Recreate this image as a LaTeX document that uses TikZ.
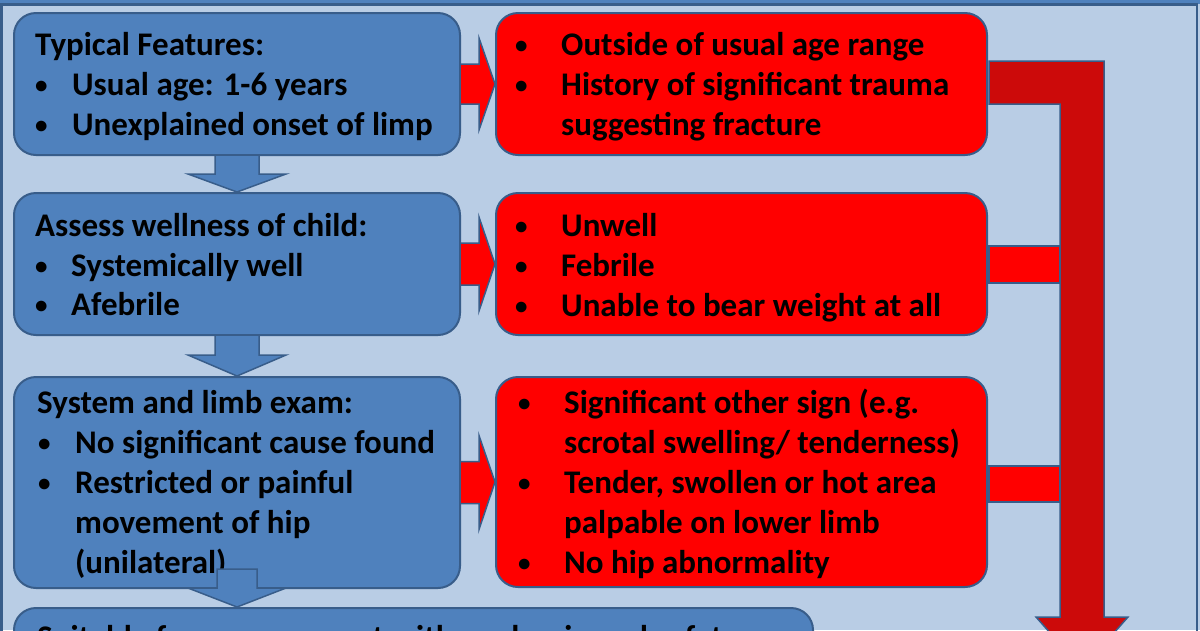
\documentclass[tikz,border=0pt]{standalone}
\usepackage{fontspec}
\setmainfont{Carlito}
\usetikzlibrary{calc}
\definecolor{boxblue}{HTML}{4F81BD}
\definecolor{boxline}{HTML}{385D8A}
\definecolor{bgblue}{HTML}{B9CDE5}
\definecolor{darkred}{HTML}{CC0A0A}
\newcommand\mybul[1]{\llap{\makebox[#1][l]{\raisebox{1.5pt}{\fontsize{25}{25}\selectfont •}}}}
\tikzset{
  box/.style={draw=boxline, line width=2pt, rounded corners=22pt, inner sep=0pt},
  bluebox/.style={box, fill=boxblue},
  redbox/.style={box, fill=red},
  txt/.style={anchor=base west, inner sep=0pt, font=\bfseries\fontsize{33}{40}\selectfont},
  barrow/.style={draw=boxline, line width=1.5pt, fill=boxblue},
  rarrow/.style={draw=boxline, line width=1.5pt, fill=red},
  darrow/.style={draw=boxline, line width=1.5pt, fill=darkred},
}
\begin{document}
\begin{tikzpicture}[x=1pt,y=-1pt]
\useasboundingbox (0,0) rectangle (1200,630);
\clip (0,0) rectangle (1200,630);
% background and frame
\fill[bgblue] (0,0) rectangle (1200,630);
\fill[boxblue] (0,0) rectangle (1200,4);
\draw[boxline, line width=2.5pt] (1.5,700) -- (1.5,4.5) -- (1197,4.5) -- (1197,700);

% boxes
\node[bluebox, minimum width=446pt, minimum height=142pt] (b1) at (237,84) {};
\node[bluebox, minimum width=446pt, minimum height=142pt] (b2) at (237,264) {};
\node[bluebox, minimum width=446pt, minimum height=211pt] (b3) at (237,482.5) {};
\node[bluebox, minimum width=799pt, minimum height=92pt] (b4) at (413.5,654) {};
\node[redbox, minimum width=491pt, minimum height=142pt] (r1) at (741.5,84) {};
\node[redbox, minimum width=491pt, minimum height=142pt] (r2) at (741.5,264) {};
\node[redbox, minimum width=491pt, minimum height=210pt] (r3) at (741.5,482) {};

% text
\node[txt] (t1a) at (35,55) {Typical Features:};
\node[txt] (t1b) at (72,95) {\mybul{37pt}Usual age: 1-6 years};
\node[txt] (t1c) at (72,135) {\mybul{37pt}Unexplained onset of limp};
\node[txt] (u1a) at (561,55) {\mybul{46pt}Outside of usual age range};
\node[txt] (u1b) at (561,95) {\mybul{46pt}History of significant trauma};
\node[txt] (u1c) at (561,135) {suggesting fracture};

\node[txt] (t2a) at (35,236) {Assess wellness of child:};
\node[txt] (t2b) at (71,276) {\mybul{36pt}Systemically well};
\node[txt] (t2c) at (71,315) {\mybul{36pt}Afebrile};
\node[txt] (u2a) at (561,236) {\mybul{46pt}Unwell};
\node[txt] (u2b) at (561,276) {\mybul{46pt}Febrile};
\node[txt] (u2c) at (561,316) {\mybul{46pt}Unable to bear weight at all};

\node[txt] (t3a) at (37,413) {System and limb exam:};
\node[txt] (t3b) at (75,453) {\mybul{37pt}No significant cause found};
\node[txt] (t3c) at (75,493) {\mybul{37pt}Restricted or painful};
\node[txt] (t3d) at (75,533) {movement of hip};
\node[txt] (t3e) at (75,573) {(unilateral)};
\node[txt] (u3a) at (564,413) {\mybul{46pt}Significant other sign (e.g.};
\node[txt] (u3b) at (564,453) {scrotal swelling/ tenderness)};
\node[txt] (u3c) at (564,493) {\mybul{46pt}Tender, swollen or hot area};
\node[txt] (u3d) at (564,533) {palpable on lower limb};
\node[txt] (u3e) at (564,573) {\mybul{46pt}No hip abnormality};

\node[txt] (t4a) at (37,648) {Suitable for management with analgesia and safety};

% blue down arrows
\draw[barrow] ($(b1.south)+(-22,-1)$) -- ($(b1.south)+(-22,18)$) -- ($(b1.south)+(-49,18)$)
  -- (b1.south |- b2.north) -- ($(b1.south)+(49,18)$) -- ($(b1.south)+(22,18)$) -- ($(b1.south)+(22,-1)$) -- cycle;
\draw[barrow] ($(b2.south)+(-22,-1)$) -- ($(b2.south)+(-22,19)$) -- ($(b2.south)+(-49,19)$)
  -- (b2.south |- b3.north) -- ($(b2.south)+(49,19)$) -- ($(b2.south)+(22,19)$) -- ($(b2.south)+(22,-1)$) -- cycle;
\draw[barrow] ($(b3.south)+(-20,-20)$) -- ($(b3.south)+(-20,-1)$) -- ($(b3.south)+(-49,-1)$)
  -- (b3.south |- b4.north) -- ($(b3.south)+(49,-1)$) -- ($(b3.south)+(20,-1)$) -- ($(b3.south)+(20,-20)$) -- cycle;

% red right arrows
\draw[rarrow] ($(b1.east)+(-1,-20)$) -- ($(b1.east)+(18,-20)$) -- ($(b1.east)+(18,-46)$)
  -- (r1.west) -- ($(b1.east)+(18,46)$) -- ($(b1.east)+(18,20)$) -- ($(b1.east)+(-1,20)$) -- cycle;
\draw[rarrow] ($(b2.east)+(-1,-21)$) -- ($(b2.east)+(18,-21)$) -- ($(b2.east)+(18,-47)$)
  -- (r2.west) -- ($(b2.east)+(18,47)$) -- ($(b2.east)+(18,21)$) -- ($(b2.east)+(-1,21)$) -- cycle;
\draw[rarrow] ($(b3.east)+(-1,-21)$) -- ($(b3.east)+(18,-21)$) -- ($(b3.east)+(18,-47)$)
  -- (r3.west) -- ($(b3.east)+(18,47)$) -- ($(b3.east)+(18,21)$) -- ($(b3.east)+(-1,21)$) -- cycle;

% connectors to the big arrow
\draw[rarrow] ($(r2.east)+(1,-18)$) rectangle ($(r2.east)+(72,19)$);
\draw[rarrow] ($(r3.east)+(1,-16)$) rectangle ($(r3.east)+(72,20)$);

% big bent arrow
\coordinate (tip) at ($(r1.east)+(94,585)$);
\draw[darrow] ($(r1.east)+(1,-23)$) -- ($(r1.east)+(116,-23)$) -- ($(r1.east)+(116,533)$)
  -- ($(r1.east)+(140,533)$) -- (tip) -- ($(r1.east)+(48,533)$) -- ($(r1.east)+(72,533)$)
  -- ($(r1.east)+(72,20)$) -- ($(r1.east)+(1,20)$) -- cycle;
\end{tikzpicture}
\end{document}
